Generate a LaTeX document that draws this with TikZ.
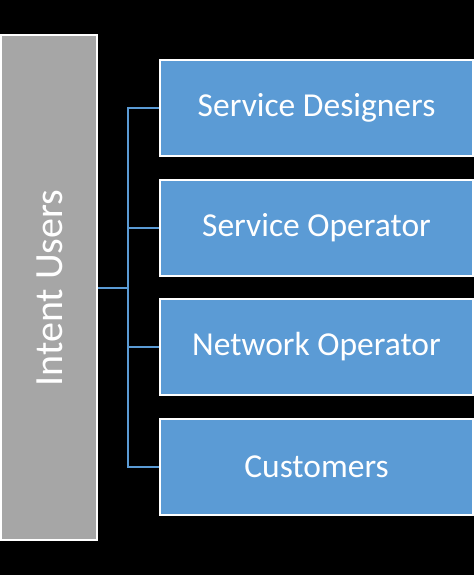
\documentclass[tikz,border=0pt]{standalone}
\usepackage{fontspec}
\setmainfont{Carlito}
\definecolor{boxblue}{HTML}{5B9BD5}
\definecolor{boxgray}{HTML}{A6A6A6}
\begin{document}
\begin{tikzpicture}[x=1pt,y=-1pt,
  rolebox/.style={draw=white, line width=2pt, fill=boxblue, minimum width=313pt, minimum height=96pt, inner sep=0pt, text=white, font=\fontsize{33.5}{38}\selectfont, anchor=west},
  userbox/.style={draw=white, line width=2pt, fill=boxgray, minimum width=96pt, minimum height=504pt, inner sep=0pt, text=white},
  link/.style={draw=boxblue, line width=2.6pt}]
\fill[black] (0,0) rectangle (474,575);
\useasboundingbox (0,0) rectangle (474,575);
\node[userbox] (users) at (49,287.5) {};
\node[rotate=90, text=white, font=\fontsize{40}{44}\selectfont] (userslabel) at (50,288) {Intent Users};
\node[rolebox] (r1) at (159,108) {Service Designers};
\node[rolebox] (r2) at (159,228) {Service Operator};
\node[rolebox] (r3) at (159,347) {Network Operator};
\node[rolebox] (r4) at (159,467) {Customers};
\coordinate (jt) at (128,108);
\coordinate (jb) at (128,467);
\coordinate (jm) at (128,288);
\draw[link] (users.east |- jm) -- (jm);
\draw[link] (r1.west) -- (jt) -- (jb) -- (r4.west);
\draw[link] (jt |- r2.west) -- (r2.west);
\draw[link] (jt |- r3.west) -- (r3.west);
\end{tikzpicture}
\end{document}
